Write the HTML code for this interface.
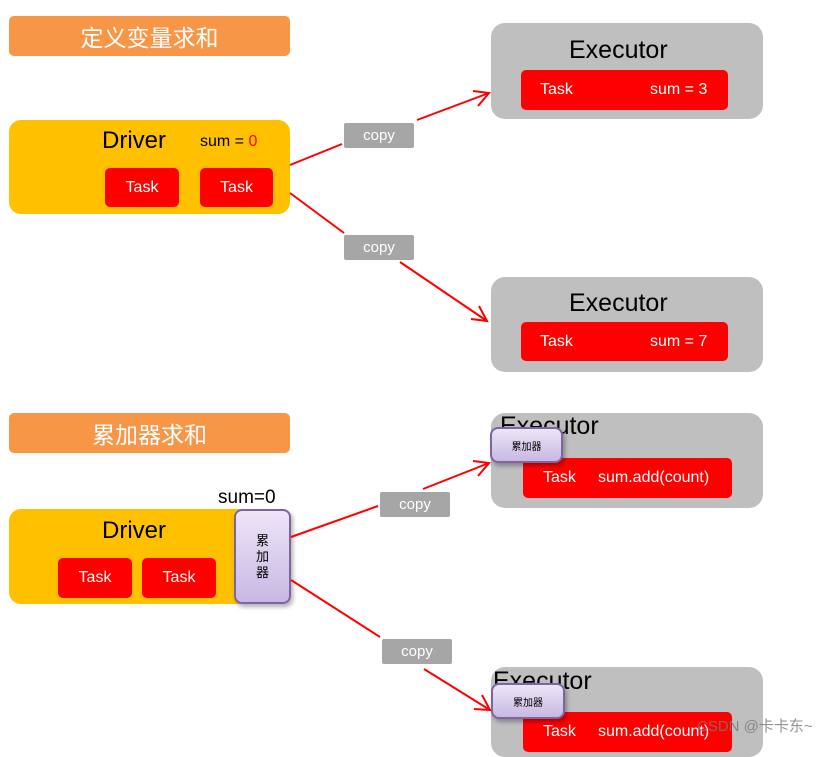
<!DOCTYPE html>
<html><head><meta charset="utf-8"><style>
body{margin:0;width:831px;height:743px;background:#fff;position:relative;overflow:hidden;font-family:"Liberation Sans","Noto Sans CJK SC",sans-serif}
.a{position:absolute;box-sizing:border-box}
.t{background:#F79646;color:#fff;font-size:23px;border-radius:5px;display:flex;align-items:center;justify-content:center}
.ex{background:#BFBFBF;border-radius:14px}
.dr{background:#FFC000;border-radius:12px}
.rd{background:#f00;color:#fff;border-radius:5px;font-size:16px}
.cp{background:#A6A6A6;color:#fff;font-size:15px;display:flex;align-items:center;justify-content:center;border-radius:2px}
.c{display:flex;align-items:center;justify-content:center}
.big{font-size:24px;color:#000}
.exl{font-size:25px;color:#000}
.acc{background:linear-gradient(#ece6f6,#c8b8e4);border:2px solid #8064A2;border-radius:8px;color:#000;box-shadow:2px 3px 4px rgba(0,0,0,.3)}
</style></head><body>
<div class="a t" style="left:9px;top:16px;width:281px;height:40px">定义变量求和</div>
<div class="a ex" style="left:491px;top:23px;width:272px;height:96px"></div>
<div class="a exl" style="left:569px;top:36px">Executor</div>
<div class="a rd" style="left:521px;top:70px;width:207px;height:40px"><span class="a" style="left:19px;top:11px">Task</span><span class="a" style="left:129px;top:11px">sum = 3</span></div>

<div class="a dr" style="left:9px;top:120px;width:281px;height:94px"></div>
<div class="a big" style="left:102px;top:127px">Driver</div>
<div class="a" style="left:200px;top:133px;font-size:16px">sum = <span style="color:#f00">0</span></div>
<div class="a rd c" style="left:105px;top:168px;width:74px;height:39px">Task</div>
<div class="a rd c" style="left:200px;top:168px;width:73px;height:39px">Task</div>

<div class="a cp" style="left:344px;top:123px;width:70px;height:25px">copy</div>
<div class="a cp" style="left:344px;top:235px;width:70px;height:25px">copy</div>

<div class="a ex" style="left:491px;top:277px;width:272px;height:95px"></div>
<div class="a exl" style="left:569px;top:289px">Executor</div>
<div class="a rd" style="left:521px;top:322px;width:207px;height:39px"><span class="a" style="left:19px;top:11px">Task</span><span class="a" style="left:129px;top:11px">sum = 7</span></div>

<div class="a t" style="left:9px;top:413px;width:281px;height:40px">累加器求和</div>
<div class="a" style="left:218px;top:487px;font-size:19px">sum=0</div>
<div class="a dr" style="left:9px;top:509px;width:260px;height:95px"></div>
<div class="a big" style="left:102px;top:517px">Driver</div>
<div class="a rd c" style="left:58px;top:558px;width:74px;height:40px">Task</div>
<div class="a rd c" style="left:142px;top:558px;width:74px;height:40px">Task</div>
<div class="a acc c" style="left:234px;top:509px;width:57px;height:95px;font-size:13px;line-height:16px;text-align:center">累<br>加<br>器</div>

<div class="a cp" style="left:380px;top:492px;width:70px;height:25px">copy</div>
<div class="a cp" style="left:382px;top:639px;width:70px;height:25px">copy</div>

<div class="a ex" style="left:491px;top:413px;width:272px;height:95px"></div>
<div class="a exl" style="left:500px;top:412px">Executor</div>
<div class="a rd" style="left:523px;top:458px;width:209px;height:40px"><span class="a" style="left:20px;top:11px">Task</span><span class="a" style="left:75px;top:11px">sum.add(count)</span></div>
<div class="a acc c" style="left:490px;top:427px;width:73px;height:36px;font-size:10px">累加器</div>

<div class="a ex" style="left:491px;top:667px;width:272px;height:90px"></div>
<div class="a exl" style="left:493px;top:667px">Executor</div>
<div class="a rd" style="left:523px;top:712px;width:209px;height:40px"><span class="a" style="left:20px;top:11px">Task</span><span class="a" style="left:75px;top:11px">sum.add(count)</span></div>
<div class="a acc c" style="left:491px;top:683px;width:74px;height:36px;font-size:10px">累加器</div>
<div class="a" style="left:697px;top:715px;font-size:15px;color:rgba(120,120,120,.8)">CSDN @卡卡东~</div>

<svg class="a" style="left:0;top:0" width="831" height="743">
<g stroke="#f00" stroke-width="2" fill="none">
<line x1="290" y1="165" x2="342" y2="144"/><line x1="417" y1="120" x2="489" y2="93"/><polyline points="473,91 489,93 478,106"/>
<line x1="290" y1="193" x2="344" y2="233"/><line x1="400" y1="262" x2="487" y2="321"/><polyline points="471,319 487,321 479,306"/>
<line x1="291" y1="537" x2="378" y2="506"/><line x1="423" y1="489" x2="489" y2="463"/><polyline points="473,461 489,463 478,476"/>
<line x1="291" y1="580" x2="380" y2="637"/><line x1="424" y1="669" x2="490" y2="710"/><polyline points="474,709 490,710 482,695"/>
</g></svg>
</body></html>
